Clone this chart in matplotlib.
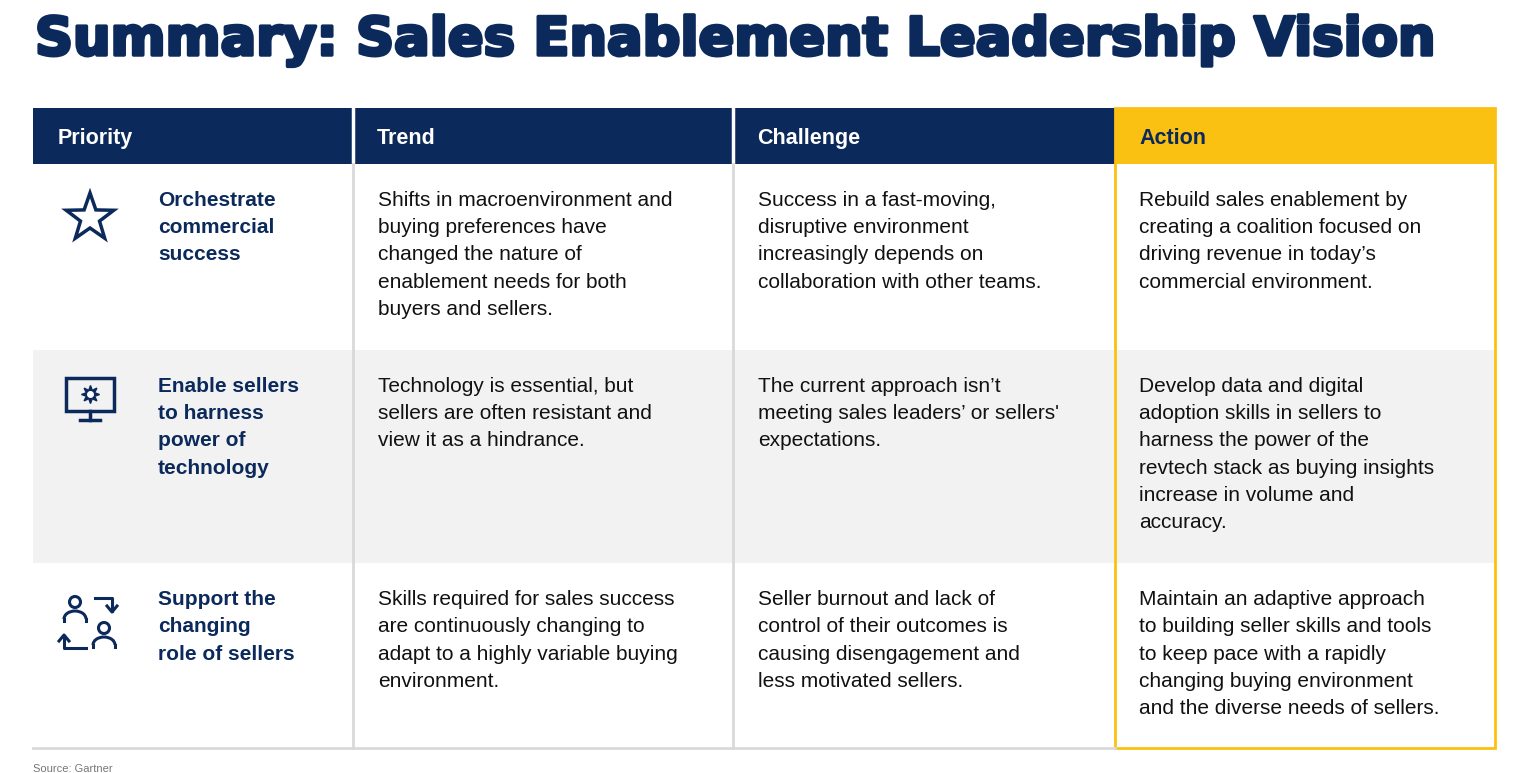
import matplotlib.pyplot as plt
import matplotlib.patches as mpatches
import matplotlib.patheffects as pe
import numpy as np

plt.rcParams['font.family'] = ['Liberation Sans', 'DejaVu Sans']

NAVY = '#0b2a5b'
GOLD = '#fbc112'

title = "Summary: Sales Enablement Leadership Vision"
headers = ["Priority", "Trend", "Challenge", "Action"]
priorities = ["Orchestrate\ncommercial\nsuccess",
              "Enable sellers\nto harness\npower of\ntechnology",
              "Support the\nchanging\nrole of sellers"]
trends = ["Shifts in macroenvironment and\nbuying preferences have\nchanged the nature of\nenablement needs for both\nbuyers and sellers.",
          "Technology is essential, but\nsellers are often resistant and\nview it as a hindrance.",
          "Skills required for sales success\nare continuously changing to\nadapt to a highly variable buying\nenvironment."]
challenges = ["Success in a fast-moving,\ndisruptive environment\nincreasingly depends on\ncollaboration with other teams.",
              "The current approach isn\u2019t\nmeeting sales leaders\u2019 or sellers'\nexpectations.",
              "Seller burnout and lack of\ncontrol of their outcomes is\ncausing disengagement and\nless motivated sellers."]
actions = ["Rebuild sales enablement by\ncreating a coalition focused on\ndriving revenue in today\u2019s\ncommercial environment.",
           "Develop data and digital\nadoption skills in sellers to\nharness the power of the\nrevtech stack as buying insights\nincrease in volume and\naccuracy.",
           "Maintain an adaptive approach\nto building seller skills and tools\nto keep pace with a rapidly\nchanging buying environment\nand the diverse needs of sellers."]

col_x = [33, 353, 733, 1115, 1495]
row_y = [108, 164, 350, 563, 748]

fig = plt.figure(figsize=(15.36, 7.73), dpi=100)
ax = fig.add_axes([0, 0, 1, 1])
ax.set_xlim(0, 1536)
ax.set_ylim(773, 0)
ax.axis('off')

ax.text(35, 55, title, fontsize=38, fontweight='bold', color=NAVY, va='baseline',
        family=['DejaVu Sans'],
        path_effects=[pe.withStroke(linewidth=2.5, foreground=NAVY)])

# header
ax.add_patch(mpatches.Rectangle((col_x[0], row_y[0]), col_x[3] - col_x[0], row_y[1] - row_y[0], color=NAVY, lw=0))
ax.add_patch(mpatches.Rectangle((col_x[3], row_y[0]), col_x[4] - col_x[3], row_y[1] - row_y[0], color=GOLD, lw=0))
for i, h in enumerate(headers):
    ax.text(col_x[i] + (25 if i == 0 else 24), 144, h, fontsize=15.5, fontweight='bold',
            color=NAVY if i == 3 else 'white', va='baseline')
for x in col_x[1:3]:
    ax.plot([x, x], [row_y[0], row_y[1]], color='white', lw=2.5)

# body rows
ax.add_patch(mpatches.Rectangle((col_x[0], row_y[2]), col_x[4] - col_x[0], row_y[3] - row_y[2], color='#f2f2f2', lw=0))
for x in col_x[1:3]:
    ax.plot([x, x], [row_y[1], row_y[4]], color='#d9d9d9', lw=2)
ax.plot([col_x[0], col_x[3]], [row_y[4], row_y[4]], color='#d9d9d9', lw=2)
ax.add_patch(mpatches.Rectangle((col_x[3], row_y[0]), col_x[4] - col_x[3], row_y[4] - row_y[0],
                                fill=False, ec=GOLD, lw=2))

fs = 15
ls = 1.55
for r in range(3):
    y = row_y[r + 1] + 27
    ax.text(158, y, priorities[r], fontsize=fs, fontweight='bold', color=NAVY, va='top', linespacing=ls)
    ax.text(378, y, trends[r], fontsize=fs, color='#111111', va='top', linespacing=ls)
    ax.text(758, y, challenges[r], fontsize=fs, color='#111111', va='top', linespacing=ls)
    ax.text(1139, y, actions[r], fontsize=fs, color='#111111', va='top', linespacing=ls)

# icons
ang = np.pi / 2 + np.arange(10) * np.pi / 5
rad = np.where(np.arange(10) % 2 == 0, 25, 10)
ax.add_patch(mpatches.Polygon(np.c_[90 + rad * np.cos(ang), 218 - rad * np.sin(ang)],
                              fill=False, ec=NAVY, lw=2.5, joinstyle='miter'))
ax.add_patch(mpatches.Rectangle((66, 378), 48, 33, fill=False, ec=NAVY, lw=2.5))
ax.plot([90, 90], [411, 420], color=NAVY, lw=2.5)
ax.plot([80, 100], [420, 420], color=NAVY, lw=2.5)
ax.plot(90, 394, marker=(8, 1, 0), ms=13, color=NAVY)
ax.plot(90, 394, marker='o', ms=4, color='white')
for cx, cy in [(75, 602), (104, 628)]:
    ax.add_patch(mpatches.Circle((cx, cy), 5.5, fill=False, ec=NAVY, lw=2.2))
    ax.add_patch(mpatches.Arc((cx, cy + 17), 22, 16, theta1=180, theta2=360, ec=NAVY, lw=2.2))
    ax.plot([cx - 11, cx - 11], [cy + 17, cy + 19], color=NAVY, lw=2.2)
    ax.plot([cx + 11, cx + 11], [cy + 17, cy + 19], color=NAVY, lw=2.2)
ax.plot([95, 112, 112], [598, 598, 611], color=NAVY, lw=2.2)
ax.plot([107, 112, 117], [606, 612, 606], color=NAVY, lw=2.2)
ax.plot([86, 64, 64], [648, 648, 636], color=NAVY, lw=2.2)
ax.plot([59, 64, 69], [641, 635, 641], color=NAVY, lw=2.2)

ax.text(33, 769, "Source: Gartner", fontsize=8, color='#777777', va='center')

fig.savefig('out.png', dpi=100)
